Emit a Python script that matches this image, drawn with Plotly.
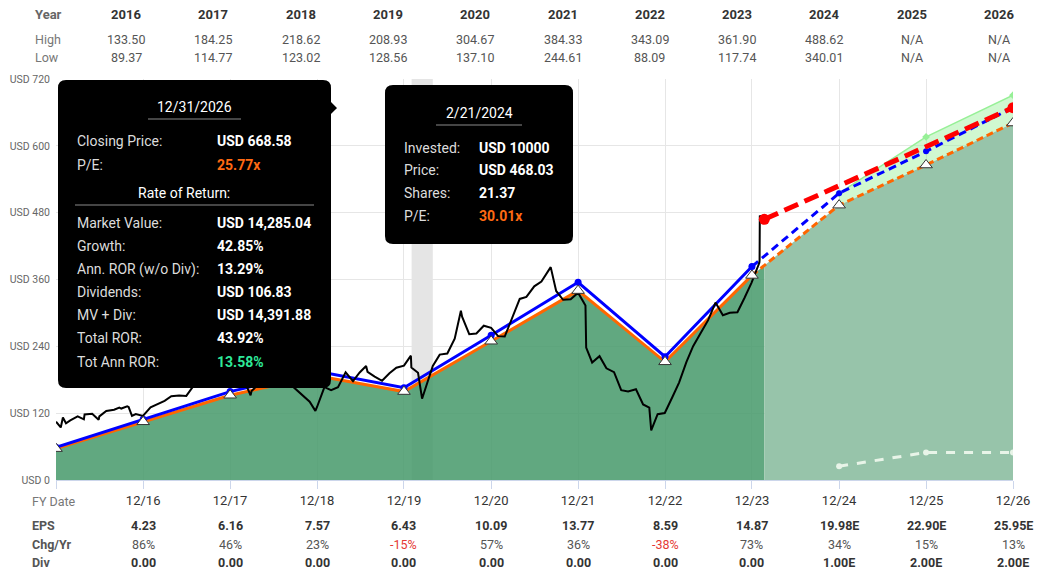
import plotly.graph_objects as go
import numpy as np

# ---------------- data ----------------
table_years = ["2016", "2017", "2018", "2019", "2020", "2021", "2022", "2023", "2024", "2025", "2026"]
table_high = ["133.50", "184.25", "218.62", "208.93", "304.67", "384.33", "343.09", "361.90", "488.62", "N/A", "N/A"]
table_low = ["89.37", "114.77", "123.02", "128.56", "137.10", "244.61", "88.09", "117.74", "340.01", "N/A", "N/A"]

fy_dates = ["2015-12-31", "2016-12-31", "2017-12-31", "2018-12-31", "2019-12-31", "2020-12-31",
            "2021-12-31", "2022-12-31", "2023-12-31", "2024-12-31", "2025-12-31", "2026-12-31"]
fy_labels = ["", "12/16", "12/17", "12/18", "12/19", "12/20", "12/21", "12/22", "12/23", "12/24", "12/25", "12/26"]
eps_text = ["4.23", "6.16", "7.57", "6.43", "10.09", "13.77", "8.59", "14.87", "19.98E", "22.90E", "25.95E"]
chg_text = ["86%", "46%", "23%", "-15%", "57%", "36%", "-38%", "73%", "34%", "15%", "13%"]
div_text = ["0.00", "0.00", "0.00", "0.00", "0.00", "0.00", "0.00", "0.00", "1.00E", "2.00E", "2.00E"]

# valuation lines (USD), one value per fiscal year end 2015..2026
normal_value = [56.3, 104.5, 152.2, 187.0, 158.8, 249.2, 340.1, 212.2, 367.3, 493.5, 565.6, 641.0]
blended_value = [58.8, 109.0, 158.7, 195.1, 165.7, 260.0, 354.9, 221.4, 383.2, 514.9, 590.1, 668.7]
upper_band_dates = ["2024-12-31", "2025-12-31", "2026-12-31"]
upper_band_value = [514.9, 616.0, 691.0]
div_line_dates = ["2024-12-31", "2025-12-31", "2026-12-31"]
div_line_value = [24.7, 49.4, 49.4]

entry_date = "2024-02-21"
entry_price = 468.03
exit_date = "2026-12-31"
exit_price = 668.58

recession_start = "2020-02-01"
recession_end = "2020-04-30"

price_dates = [
    "2015-12-31", "2016-01-20", "2016-01-29", "2016-02-11", "2016-02-29", "2016-03-31", "2016-04-26", "2016-04-29",
    "2016-05-31", "2016-06-27", "2016-06-30", "2016-07-29", "2016-08-31", "2016-09-22", "2016-09-30", "2016-10-25",
    "2016-10-31", "2016-11-14", "2016-11-30", "2016-12-30", "2017-01-31", "2017-02-28", "2017-03-31", "2017-04-28",
    "2017-05-31", "2017-06-30", "2017-07-31", "2017-08-31", "2017-09-29", "2017-10-31", "2017-11-30", "2017-12-29",
    "2018-01-31", "2018-02-28", "2018-03-27", "2018-03-31", "2018-04-30", "2018-05-31", "2018-06-29", "2018-07-25",
    "2018-07-31", "2018-08-31", "2018-09-28", "2018-10-31", "2018-11-30", "2018-12-24", "2018-12-31", "2019-01-31",
    "2019-02-28", "2019-03-29", "2019-04-30", "2019-05-31", "2019-06-28", "2019-07-25", "2019-07-31", "2019-08-30",
    "2019-09-30", "2019-10-31", "2019-11-29", "2019-12-31", "2020-01-29", "2020-01-31", "2020-02-28", "2020-03-16",
    "2020-03-31", "2020-04-30", "2020-05-29", "2020-06-30", "2020-07-31", "2020-08-26", "2020-08-31", "2020-09-30",
    "2020-10-30", "2020-11-30", "2020-12-31", "2021-01-29", "2021-02-26", "2021-03-31", "2021-04-30", "2021-05-28",
    "2021-06-30", "2021-07-30", "2021-08-31", "2021-09-07", "2021-09-30", "2021-10-29", "2021-11-30", "2021-12-31",
    "2022-01-31", "2022-02-03", "2022-02-28", "2022-03-31", "2022-04-29", "2022-05-31", "2022-06-30", "2022-07-29",
    "2022-08-31", "2022-09-30", "2022-10-26", "2022-10-31", "2022-11-03", "2022-11-30", "2022-12-30", "2023-01-31",
    "2023-02-28", "2023-03-31", "2023-04-28", "2023-05-31", "2023-06-30", "2023-07-31", "2023-08-31", "2023-09-29",
    "2023-10-31", "2023-11-30", "2023-12-29", "2024-01-31", "2024-02-01", "2024-02-02", "2024-02-09", "2024-02-21"]
price_values = [
    104.7, 94.4, 112.2, 101.9, 106.9, 114.1, 108.9, 117.6,
    118.8, 108.0, 114.3, 123.9, 126.1, 130.1, 128.3, 132.1,
    131.0, 115.1, 118.4, 115.1, 130.3, 135.5, 142.1, 150.3,
    151.5, 151.0, 169.3, 172.0, 170.9, 180.1, 177.2, 176.5,
    186.9, 178.3, 152.2, 159.8, 172.0, 191.8, 194.3, 217.5,
    172.6, 175.7, 164.5, 151.8, 140.6, 124.1, 131.1, 166.7,
    161.5, 166.7, 193.4, 177.5, 193.0, 204.7, 194.2, 185.7,
    178.1, 191.7, 201.6, 205.3, 223.2, 201.9, 192.5, 146.0,
    166.8, 204.7, 225.1, 227.1, 253.7, 303.9, 293.2, 261.9,
    263.1, 277.0, 273.2, 258.3, 257.6, 294.5, 325.1, 328.7,
    347.7, 356.3, 379.4, 382.2, 339.4, 323.6, 324.5, 336.4,
    313.3, 237.8, 211.0, 222.4, 200.5, 193.6, 161.3, 159.1,
    162.9, 135.7, 129.8, 93.2, 88.9, 118.1, 120.3, 149.0,
    174.9, 211.9, 240.3, 264.7, 287.0, 318.6, 295.9, 300.2,
    301.3, 327.2, 354.0, 390.1, 394.8, 475.0, 468.1, 468.03]

y_ticks = [0, 120, 240, 360, 480, 600, 720]

# ---------------- layout geometry ----------------
# The page body has an 8px margin; positions below are given in window pixels.
OFF = 8
W, H = 1055 - OFF, 576 - OFF
PL, PR, PT, PB = 56, 1013, 79, 480   # plot area in window pixels


def px(x):
    return (x - PL) / (PR - PL)


def py(y):
    return (PB - y) / (PB - PT)


FONT = "Roboto"
DARK_AREA = "rgba(69,153,106,0.85)"
LIGHT_AREA = "rgb(151,196,170)"
ORANGE = "#ff6600"
BLUE = "#0000ff"

fig = go.Figure()

# recession band (beneath the semi-transparent area)
fig.add_trace(go.Scatter(
    x=[recession_start, recession_start, recession_end, recession_end],
    y=[0, y_ticks[-1], y_ticks[-1], 0], fill="toself", fillcolor="rgb(229,229,229)",
    mode="lines", line=dict(width=0), hoverinfo="skip", showlegend=False))

# split of historical / projected area at entry date
ts = np.array([np.datetime64(d).astype("datetime64[D]").astype(float) for d in fy_dates])
split_t = np.datetime64(entry_date).astype("datetime64[D]").astype(float)
split_val = float(np.interp(split_t, ts, normal_value))
hist_idx = [i for i, t in enumerate(ts) if t <= split_t]
fut_idx = [i for i, t in enumerate(ts) if t > split_t]

fig.add_trace(go.Scatter(
    x=[fy_dates[i] for i in hist_idx] + [entry_date],
    y=[normal_value[i] for i in hist_idx] + [split_val],
    fill="tozeroy", fillcolor=DARK_AREA, mode="lines", line=dict(width=0, color=DARK_AREA),
    hoverinfo="skip", showlegend=False))
fig.add_trace(go.Scatter(
    x=[entry_date] + [fy_dates[i] for i in fut_idx],
    y=[split_val] + [normal_value[i] for i in fut_idx],
    fill="tozeroy", fillcolor=LIGHT_AREA, mode="lines", line=dict(width=0, color=LIGHT_AREA),
    hoverinfo="skip", showlegend=False))

# green upper band
band_low = [normal_value[fy_dates.index(d)] for d in upper_band_dates]
fig.add_trace(go.Scatter(x=upper_band_dates, y=band_low, mode="lines", line=dict(width=0),
                         hoverinfo="skip", showlegend=False))
fig.add_trace(go.Scatter(x=upper_band_dates, y=upper_band_value, mode="lines+markers", fill="tonexty",
                         fillcolor="rgba(150,240,150,0.45)", line=dict(color="rgb(150,240,150)", width=1.5),
                         marker=dict(symbol="diamond", size=6, color="rgb(150,240,150)"),
                         hoverinfo="skip", showlegend=False))

# dividends line
fig.add_trace(go.Scatter(x=div_line_dates, y=div_line_value, mode="lines+markers",
                         line=dict(color="rgb(232,244,232)", width=3, dash="dash"),
                         marker=dict(size=6, color="rgb(232,244,232)"), hoverinfo="skip", showlegend=False))

# orange normal line
last_hist = 8  # 2023
fig.add_trace(go.Scatter(x=fy_dates[:last_hist + 1], y=normal_value[:last_hist + 1], mode="lines",
                         line=dict(color=ORANGE, width=3), hoverinfo="skip", showlegend=False))
fig.add_trace(go.Scatter(x=fy_dates[last_hist:], y=normal_value[last_hist:], mode="lines",
                         line=dict(color=ORANGE, width=3, dash="7px,4px"), hoverinfo="skip", showlegend=False))

# blue blended line
fig.add_trace(go.Scatter(x=fy_dates[:last_hist + 1], y=blended_value[:last_hist + 1], mode="lines+markers",
                         line=dict(color=BLUE, width=3), marker=dict(size=7, color=BLUE),
                         hoverinfo="skip", showlegend=False))
fig.add_trace(go.Scatter(x=fy_dates[last_hist:], y=blended_value[last_hist:], mode="lines+markers",
                         line=dict(color=BLUE, width=3, dash="8px,5px"), marker=dict(size=6, color=BLUE),
                         hoverinfo="skip", showlegend=False))

# price line
fig.add_trace(go.Scatter(x=price_dates, y=price_values, mode="lines", line=dict(color="black", width=2),
                         hoverinfo="skip", showlegend=False))

# triangles on normal line
fig.add_trace(go.Scatter(x=fy_dates, y=normal_value, mode="markers",
                         marker=dict(symbol="triangle-up", size=11, color="white", line=dict(color="#333", width=1)),
                         hoverinfo="skip", showlegend=False))

# red projection line
fig.add_trace(go.Scatter(x=[entry_date, exit_date], y=[entry_price, exit_price], mode="lines+markers",
                         line=dict(color="#ff0000", width=5, dash="15px,7px"),
                         marker=dict(size=11, color="#ff0000"), hoverinfo="skip", showlegend=False))

# ---------------- tooltip boxes ----------------
shapes = []
annotations = []


def rounded_path(x0, y0, x1, y1, r, pointer=None):
    def P(x, y):
        return f"{px(x):.5f},{py(y):.5f}"
    s = f"M {P(x0 + r, y0)} L {P(x1 - r, y0)} Q {P(x1, y0)} {P(x1, y0 + r)} "
    if pointer is not None:
        s += f"L {P(x1, pointer - 6)} L {P(x1 + 6, pointer)} L {P(x1, pointer + 6)} "
    s += (f"L {P(x1, y1 - r)} Q {P(x1, y1)} {P(x1 - r, y1)} L {P(x0 + r, y1)} "
          f"Q {P(x0, y1)} {P(x0, y1 - r)} L {P(x0, y0 + r)} Q {P(x0, y0)} {P(x0 + r, y0)} Z")
    return s


shapes.append(dict(type="path", xref="paper", yref="paper", path=rounded_path(58, 80, 331, 388, 8, pointer=108),
                   fillcolor="black", line=dict(width=0), layer="above"))
shapes.append(dict(type="path", xref="paper", yref="paper", path=rounded_path(385, 85, 573, 244, 8),
                   fillcolor="black", line=dict(width=0), layer="above"))
for (x0, x1, y) in [(148, 241, 119), (75, 314, 205), (436, 522, 125)]:
    shapes.append(dict(type="line", xref="paper", yref="paper", x0=px(x0), x1=px(x1), y0=py(y), y1=py(y),
                       line=dict(color="#8a8a8a", width=1), layer="above"))


def txt(x, y, text, color, size=14, anchor="left", bold=False, family=FONT):
    annotations.append(dict(xref="paper", yref="paper", x=px(x), y=py(y), xanchor=anchor, yanchor="middle",
                            text=f"<b>{text}</b>" if bold else text, showarrow=False,
                            font=dict(family=family, size=size, color=color)))


LBL = "#dcdcdc"
txt(194, 107, "12/31/2026", "white", anchor="center")
left_rows = [
    (141, "Closing Price:", "USD 668.58", "white"),
    (165, "P/E:", "25.77x", "#ff6a13"),
    (223, "Market Value:", "USD 14,285.04", "white"),
    (246, "Growth:", "42.85%", "white"),
    (269, "Ann. ROR (w/o Div):", "13.29%", "white"),
    (292, "Dividends:", "USD 106.83", "white"),
    (315, "MV + Div:", "USD 14,391.88", "white"),
    (338, "Total ROR:", "43.92%", "white"),
    (362, "Tot Ann ROR:", "13.58%", "#2ee89a"),
]
for y, lab, val, col in left_rows:
    txt(75, y, lab, LBL)
    txt(215, y, val, col, bold=True)
txt(184, 193, "Rate of Return:", "white", anchor="center")

txt(479, 113, "2/21/2024", "white", anchor="center")
right_rows = [
    (148, "Invested:", "USD 10000", "white"),
    (170, "Price:", "USD 468.03", "white"),
    (193, "Shares:", "21.37", "white"),
    (216, "P/E:", "30.01x", "#ff6a13"),
]
for y, lab, val, col in right_rows:
    txt(402, y, lab, LBL)
    txt(477, y, val, col, bold=True)

# ---------------- top table ----------------
txt(33, 15, "Year", "#666", size=13, bold=True)
txt(33, 40, "High", "#777", size=12.5)
txt(33, 57, "Low", "#777", size=12.5)
for i, yr in enumerate(table_years):
    cx = 126 + i * 87.3
    txt(cx, 15, yr, "#333", size=13, anchor="center", bold=True)
    txt(cx, 40, table_high[i], "#555", size=12.5, anchor="center")
    txt(cx, 57, table_low[i], "#555", size=12.5, anchor="center")

# ---------------- bottom table ----------------
txt(30, 501, "FY Date", "#777", size=12.5)
txt(30, 525, "EPS", "#555", size=12.5, bold=True)
txt(30, 544, "Chg/Yr", "#555", size=12.5, bold=True)
txt(30, 562, "Div", "#555", size=12.5, bold=True)
for i in range(len(eps_text)):
    d = fy_dates[i + 1]
    for y, val, col, b in [(525, eps_text[i], "#333", True),
                           (544, chg_text[i], "#e53935" if chg_text[i].startswith("-") else "#555", False),
                           (562, div_text[i], "#333", True)]:
        annotations.append(dict(xref="x", yref="paper", x=d, y=py(y), xanchor="center", yanchor="middle",
                                text=f"<b>{val}</b>" if b else val, showarrow=False,
                                font=dict(family=FONT, size=12.5, color=col)))

fig.update_layout(
    width=W, height=H,
    margin=dict(l=PL - OFF, r=W - (PR - OFF), t=PT - OFF, b=H - (PB - OFF), autoexpand=False),
    paper_bgcolor="white", plot_bgcolor="white",
    font=dict(family=FONT),
    shapes=shapes, annotations=annotations,
    xaxis=dict(type="date", range=[fy_dates[0], fy_dates[-1]], tickvals=fy_dates, ticktext=fy_labels,
               showgrid=True, gridcolor="#e6e6e6", gridwidth=1, showline=True, linecolor="#ccd6eb",
               ticks="outside", ticklen=8, tickcolor="#ccd6eb", tickfont=dict(family=FONT, size=13, color="#333"),
               zeroline=False, layer="below traces"),
    yaxis=dict(range=[0, y_ticks[-1]], tickvals=y_ticks, ticktext=[f"USD {v}" for v in y_ticks],
               showgrid=True, gridcolor="#e6e6e6", gridwidth=1, zeroline=False, showline=False,
               tickfont=dict(family=FONT, size=10.5, color="#666"), ticks="", ticklabelstandoff=5),
)

fig.write_html("out.html")
